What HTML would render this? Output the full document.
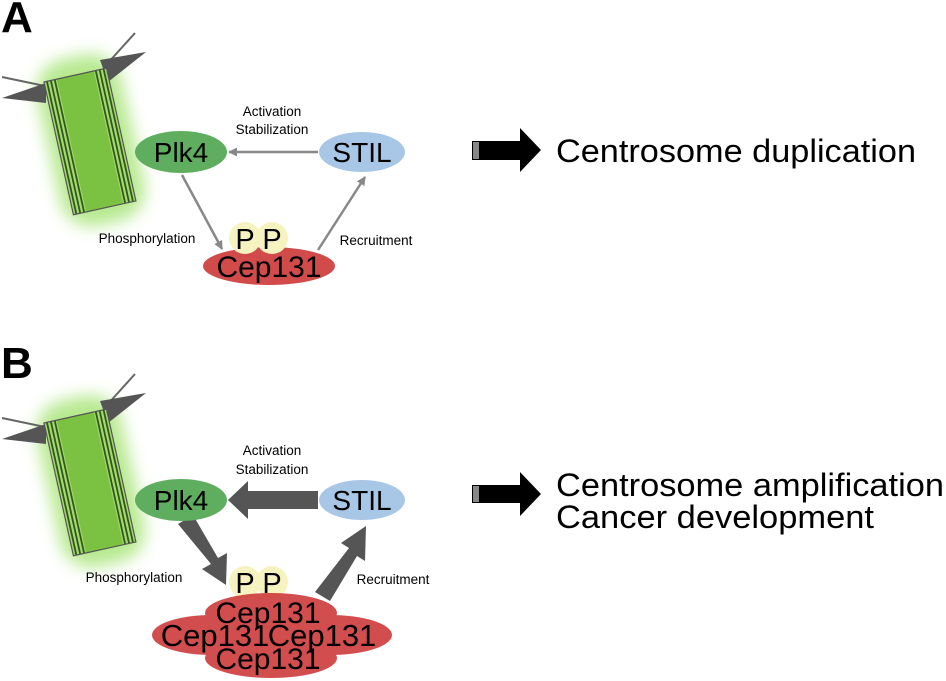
<!DOCTYPE html>
<html><head><meta charset="utf-8"><style>
html,body{margin:0;padding:0;background:#fff;}
svg{display:block;font-family:"Liberation Sans",Arial,sans-serif;}
</style></head><body>
<svg width="946" height="681" viewBox="0 0 946 681" xmlns="http://www.w3.org/2000/svg">
<defs>
<filter id="blur" x="-50%" y="-50%" width="200%" height="200%"><feGaussianBlur stdDeviation="8"/></filter>
<g id="cent">
  <g transform="translate(44,82) rotate(-12.5)">
    <rect x="-10" y="-18" width="86" height="170" rx="32" fill="#9fe26a" opacity="0.75" filter="url(#blur)"/>
  </g>
  <line x1="2" y1="77" x2="45" y2="86" stroke="#666" stroke-width="2"/>
  <polygon points="2,98 46,83 46,103" fill="#555"/>
  <line x1="107" y1="64" x2="135" y2="33" stroke="#666" stroke-width="2"/>
  <polygon points="100,60 146,52 108,82" fill="#555"/>
  <g transform="translate(44,82) rotate(-12.5)">
    <rect x="0" y="0" width="64" height="136" fill="#7cc242"/>
    <rect x="0" y="0" width="13" height="136" fill="#a6d86f"/>
    <rect x="51" y="0" width="13" height="136" fill="#a6d86f"/>
    <g stroke="#2d5a1c" stroke-width="1.8">
      <line x1="3" y1="0" x2="3" y2="136"/><line x1="7" y1="0" x2="7" y2="136"/><line x1="11" y1="0" x2="11" y2="136"/>
      <line x1="53" y1="0" x2="53" y2="136"/><line x1="57" y1="0" x2="57" y2="136"/><line x1="61" y1="0" x2="61" y2="136"/>
    </g>
    <rect x="0" y="0" width="64" height="136" fill="none" stroke="#555" stroke-width="1.2"/>
  </g>
</g>
<marker id="ah" markerWidth="9" markerHeight="9" refX="8" refY="4.5" orient="auto" markerUnits="userSpaceOnUse">
  <path d="M0,0 L9,4.5 L0,9 Z" fill="#888"/>
</marker>
</defs>

<!-- Panel A -->
<text x="1" y="32" font-size="44" font-weight="bold">A</text>
<use href="#cent"/>
<line x1="318" y1="152" x2="229" y2="152" stroke="#888" stroke-width="2.5" marker-end="url(#ah)"/>
<line x1="182" y1="175" x2="222" y2="249" stroke="#888" stroke-width="2.5" marker-end="url(#ah)"/>
<line x1="318" y1="250" x2="365" y2="177" stroke="#888" stroke-width="2.5" marker-end="url(#ah)"/>
<ellipse cx="181" cy="152" rx="46" ry="21" fill="#5fae5f"/>
<ellipse cx="362" cy="152" rx="43" ry="20" fill="#a8c6e6"/>
<text x="181" y="162" font-size="28" text-anchor="middle">Plk4</text>
<text x="362" y="162" font-size="28" text-anchor="middle">STIL</text>
<text x="272" y="116" font-size="13.5" text-anchor="middle">Activation</text>
<text x="272" y="134" font-size="13.5" text-anchor="middle">Stabilization</text>
<text x="147" y="243" font-size="13.5" text-anchor="middle">Phosphorylation</text>
<text x="376" y="245" font-size="13.5" text-anchor="middle">Recruitment</text>
<ellipse cx="269" cy="266" rx="66" ry="19" fill="#d24b4b"/>
<circle cx="245" cy="238" r="16" fill="#f7f3c0"/>
<circle cx="272" cy="238" r="16" fill="#f7f3c0"/>
<text x="245" y="249" font-size="29" text-anchor="middle">P</text>
<text x="272" y="249" font-size="29" text-anchor="middle">P</text>
<text x="269" y="277" font-size="30" text-anchor="middle">Cep131</text>

<g>
<rect x="472" y="141" width="49" height="19" fill="#000"/>
<rect x="473" y="142" width="6" height="17" fill="#888"/>
<polygon points="520,128 541,150 520,172" fill="#000"/>
</g>
<text x="556" y="162" font-size="32" textLength="360" lengthAdjust="spacingAndGlyphs">Centrosome duplication</text>

<!-- Panel B -->
<text x="1" y="378" font-size="44" font-weight="bold">B</text>
<use href="#cent" transform="translate(0,341)"/>
<polygon points="318,491 248,491 248,481 228,500 248,519 248,509 318,509" fill="#555"/>
<polygon points="178,524 193,515 218,558 227,553 226,585 202,569 211,564" fill="#555"/>
<polygon points="315,592 330,601 357,556 365,561 366,526 341,543 349,548" fill="#555"/>
<ellipse cx="181" cy="500" rx="46" ry="21" fill="#5fae5f"/>
<ellipse cx="362" cy="500" rx="43" ry="20" fill="#a8c6e6"/>
<text x="181" y="510" font-size="28" text-anchor="middle">Plk4</text>
<text x="362" y="510" font-size="28" text-anchor="middle">STIL</text>
<text x="272" y="455" font-size="13.5" text-anchor="middle">Activation</text>
<text x="272" y="474" font-size="13.5" text-anchor="middle">Stabilization</text>
<text x="134" y="582" font-size="13.5" text-anchor="middle">Phosphorylation</text>
<text x="393" y="584" font-size="13.5" text-anchor="middle">Recruitment</text>
<circle cx="245" cy="582" r="16" fill="#f7f3c0"/>
<circle cx="272" cy="582" r="16" fill="#f7f3c0"/>
<g opacity="0.88">
<ellipse cx="271" cy="613" rx="66" ry="20" fill="#cc3535"/>
<ellipse cx="212" cy="635" rx="60" ry="20" fill="#cc3535"/>
<ellipse cx="330" cy="635" rx="62" ry="20" fill="#cc3535"/>
<ellipse cx="271" cy="658" rx="66" ry="20" fill="#cc3535"/>
</g>
<text x="245" y="593" font-size="29" text-anchor="middle">P</text>
<text x="272" y="593" font-size="29" text-anchor="middle">P</text>
<text x="268" y="623" font-size="30" text-anchor="middle">Cep131</text>
<text x="215" y="646" font-size="31" text-anchor="middle">Cep131</text>
<text x="322" y="646" font-size="31" text-anchor="middle">Cep131</text>
<text x="268" y="669" font-size="30" text-anchor="middle">Cep131</text>

<g>
<rect x="472" y="485" width="49" height="18" fill="#000"/>
<rect x="473" y="486" width="6" height="16" fill="#888"/>
<polygon points="520,472 541,494 520,516" fill="#000"/>
</g>
<text x="556" y="496" font-size="32" textLength="388" lengthAdjust="spacingAndGlyphs">Centrosome amplification</text>
<text x="556" y="528" font-size="32" textLength="318" lengthAdjust="spacingAndGlyphs">Cancer development</text>
</svg>
</body></html>
